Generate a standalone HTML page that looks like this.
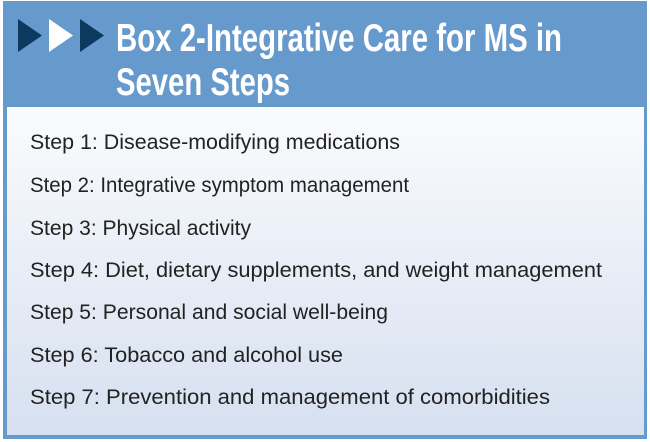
<!DOCTYPE html>
<html><head><style>
html,body{margin:0;padding:0;background:#fff;}
</style></head><body>
<svg width="650" height="442" xmlns="http://www.w3.org/2000/svg" style="display:block">
<defs>
<linearGradient id="g" x1="0" y1="0" x2="0" y2="1">
<stop offset="0" stop-color="#fafbfd"/>
<stop offset="1" stop-color="#d6e0f0"/>
</linearGradient>
</defs>
<rect x="3" y="1" width="644" height="438" fill="#6699cc"/>
<rect x="7" y="107" width="637" height="328" fill="url(#g)"/>
<polygon points="18,19 42,35.5 18,52" fill="#0c3a5e"/>
<polygon points="49,19 73,35.5 49,52" fill="#ffffff"/>
<polygon points="80,19 104,35.5 80,52" fill="#0c3a5e"/>
<g font-family="Liberation Sans, sans-serif" font-weight="bold" font-size="39" fill="#ffffff">
<text x="116" y="51" textLength="446" lengthAdjust="spacingAndGlyphs">Box 2-Integrative Care for MS in</text>
<text x="116" y="95" textLength="174" lengthAdjust="spacingAndGlyphs">Seven Steps</text>
</g>
<g font-family="Liberation Sans, sans-serif" font-size="21" fill="#222">
<text x="30" y="149" textLength="370" lengthAdjust="spacingAndGlyphs">Step 1: Disease-modifying medications</text>
<text x="30" y="192" textLength="379" lengthAdjust="spacingAndGlyphs">Step 2: Integrative symptom management</text>
<text x="30" y="235" textLength="221" lengthAdjust="spacingAndGlyphs">Step 3: Physical activity</text>
<text x="30" y="277" textLength="572" lengthAdjust="spacingAndGlyphs">Step 4: Diet, dietary supplements, and weight management</text>
<text x="30" y="319" textLength="358" lengthAdjust="spacingAndGlyphs">Step 5: Personal and social well-being</text>
<text x="30" y="362" textLength="313" lengthAdjust="spacingAndGlyphs">Step 6: Tobacco and alcohol use</text>
<text x="30" y="404" textLength="520" lengthAdjust="spacingAndGlyphs">Step 7: Prevention and management of comorbidities</text>
</g>
</svg>
</body></html>
